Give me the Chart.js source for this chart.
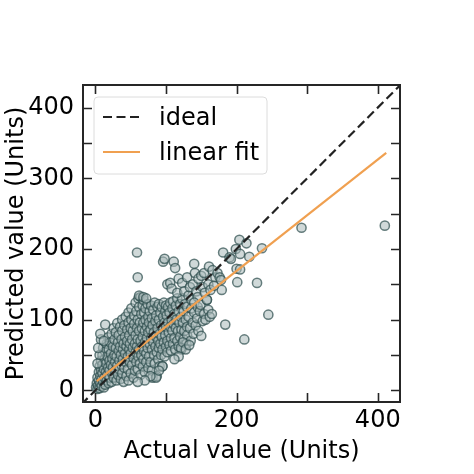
<!DOCTYPE html>
<html>
<head>
<meta charset="utf-8">
<script src="https://cdn.jsdelivr.net/npm/chart.js@4.4.1/dist/chart.umd.min.js"></script>
<style>
  html, body { margin: 0; padding: 0; background: #fff; }
  #wrap { width: 474px; height: 474px; }
</style>
</head>
<body>
<div id="wrap"><canvas id="parity-chart" width="474" height="474"></canvas></div>
<script>
// actual vs predicted, one entry per sample (same order in both arrays)
const actual = [
  1,2,3,3,4,5,5,6,6,7,7,8,8,9,9,10,10,10,11,11,12,12,13,13,14,14,14,15,15,16,16,17,17,18,18,19,19,20,20,20,21,22,22,23,23,24,24,25,25,6,4,3,8,7,12,
  26,26,27,27,28,28,29,29,30,30,31,31,32,32,33,33,34,34,35,35,36,36,37,37,38,38,38,39,39,40,40,41,41,42,42,43,43,44,44,45,45,46,46,47,47,47,48,48,49,49,50,50,50,
  51,51,52,52,53,53,54,54,55,55,56,56,57,57,57,58,58,59,59,60,60,60,61,61,62,62,62,63,63,64,64,64,65,65,66,66,67,67,67,68,68,68,69,69,70,70,70,71,71,72,72,73,73,74,74,75,75,75,
  76,76,77,77,78,78,79,79,80,80,80,81,81,82,82,83,83,84,84,85,85,86,86,87,87,88,88,89,89,90,90,90,91,91,92,92,93,93,94,94,95,95,96,96,97,97,98,98,99,99,100,100,100,
  101,102,102,103,103,104,105,105,106,106,107,107,108,109,109,110,110,111,112,112,113,114,114,115,116,116,117,118,118,119,120,120,121,122,122,123,124,125,125,126,127,128,129,130,130,130,
  59,60,62,68,72,96,98,102,106,108,111,113,116,118,123,126,130,132,134,136,138,140,141,143,145,146,150,152,154,155,158,160,161,163,166,170,173,176,178,179,181,190,192,168,
  132,134,135,136,138,139,140,140,142,144,145,146,148,149,150,152,154,156,158,160,162,165,121,124,128,133,118,112,184,
  199,204,214,205,218,236,292,410,200,205,201,229,245,211,
  86,95,78,90,70,60
];
const predicted = [
  4,10,2,18,7,14,26,3,34,20,10,42,28,6,16,50,36,24,12,60,4,30,44,18,93,8,55,26,38,66,14,48,22,32,75,10,58,42,28,18,68,52,36,12,80,24,45,62,33,50,60,38,72,80,70,
  88,18,50,72,40,28,60,82,14,48,95,35,68,22,56,78,42,30,90,62,16,50,72,36,100,84,24,58,44,66,12,92,32,76,52,104,40,20,62,86,70,48,30,110,96,14,58,78,40,66,88,24,52,
  116,100,72,36,60,84,46,18,106,94,66,28,124,78,54,40,112,88,62,100,72,30,48,130,118,84,58,38,96,132,70,22,108,50,88,62,120,76,34,128,96,44,56,110,84,68,26,116,100,52,40,90,74,122,60,104,32,82,
  96,48,112,66,40,86,120,74,58,102,28,92,18,68,114,50,82,124,38,98,62,76,106,20,54,88,118,44,70,100,60,122,80,34,110,66,50,92,118,76,34,58,104,86,68,124,48,96,112,78,62,120,90,
  106,70,54,96,118,82,64,110,124,90,74,56,100,116,84,66,126,94,108,74,58,88,120,100,70,130,84,112,62,96,76,122,104,86,58,130,96,112,72,84,122,100,66,90,118,78,
  195,160,134,132,130,182,186,150,152,144,182,173,138,158,152,140,160,134,146,128,150,179,166,140,132,158,162,146,166,138,128,150,175,142,170,160,166,160,156,142,195,188,186,148,
  104,88,70,116,96,80,110,124,92,102,118,84,112,121,77,98,108,100,128,114,104,108,60,68,58,64,48,44,93,
  200,213,208,193,189,201,230,233,172,171,153,152,107,72,
  18,34,20,28,14,12
];
// fitted line end points
const fitX = [2, 412];
const fitY = [13, 336];
// axis ticks (labelled ones are listed separately)
const xTicks = [0, 100, 200, 300, 400];
const xTickLabels = [0, 200, 400];
const yTicks = [0, 50, 100, 150, 200, 250, 300, 350, 400];
const yTickLabels = [0, 100, 200, 300, 400];
const xRange = [-17.5, 431.5];
const yRange = [-16.5, 432];

const font = { family: "DejaVu Sans", size: 24 };

const points = actual.map((v, i) => ({ x: v, y: predicted[i] }));
const idealLine = [-20, 440].map((v) => ({ x: v, y: v }));
const fitLine = fitX.map((v, i) => ({ x: v, y: fitY[i] }));

// matplotlib style: box frame + inward ticks on every side
const frameTicks = {
  id: "frameTicks",
  afterDatasetsDraw(chart) {
    const { ctx, chartArea: a, scales } = chart;
    const len = 9;
    ctx.save();
    ctx.strokeStyle = "#262626";
    ctx.lineWidth = 1.6;
    ctx.beginPath();
    scales.x.ticks.forEach((t) => {
      const px = Math.round(scales.x.getPixelForValue(t.value)) + 0.5;
      ctx.moveTo(px, a.bottom);
      ctx.lineTo(px, a.bottom - len);
      ctx.moveTo(px, a.top);
      ctx.lineTo(px, a.top + len);
    });
    scales.y.ticks.forEach((t) => {
      const py = Math.round(scales.y.getPixelForValue(t.value)) + 0.5;
      ctx.moveTo(a.left, py);
      ctx.lineTo(a.left + len, py);
      ctx.moveTo(a.right, py);
      ctx.lineTo(a.right - len, py);
    });
    ctx.stroke();
    ctx.lineWidth = 2;
    ctx.strokeRect(a.left, a.top, a.right - a.left, a.bottom - a.top);
    ctx.restore();
  },
};

// legend box in the upper-left corner of the plot
const boxLegend = {
  id: "boxLegend",
  afterDraw(chart) {
    const { ctx, chartArea: a } = chart;
    const items = chart.data.datasets.filter((d) => d.showInLegend);
    const x0 = a.left + 11, y0 = a.top + 12, w = 173, h = 77;
    ctx.save();
    ctx.beginPath();
    ctx.roundRect(x0, y0, w, h, 4);
    ctx.fillStyle = "rgba(255,255,255,0.8)";
    ctx.fill();
    ctx.strokeStyle = "#dcdcdc";
    ctx.lineWidth = 1;
    ctx.stroke();
    items.forEach((d, i) => {
      const ly = y0 + 20 + i * 35;
      ctx.beginPath();
      ctx.setLineDash(d.borderDash || []);
      ctx.strokeStyle = d.borderColor;
      ctx.lineWidth = d.borderWidth;
      ctx.moveTo(x0 + 9, ly);
      ctx.lineTo(x0 + 46, ly);
      ctx.stroke();
      ctx.setLineDash([]);
      ctx.fillStyle = "#000";
      ctx.font = `${font.size}px "${font.family}"`;
      ctx.textBaseline = "alphabetic";
      ctx.fillText(d.label, x0 + 65, ly + 8);
    });
    ctx.restore();
  },
};

new Chart(document.getElementById("parity-chart").getContext("2d"), {
  type: "scatter",
  data: {
    datasets: [
      {
        label: "ideal",
        type: "line",
        data: idealLine,
        borderColor: "#222222",
        borderWidth: 2.2,
        borderDash: [9, 4.5],
        pointRadius: 0,
        showInLegend: true,
      },
      {
        label: "linear fit",
        type: "line",
        data: fitLine,
        borderColor: "#f0a050",
        borderWidth: 2.2,
        pointRadius: 0,
        showInLegend: true,
      },
      {
        label: "samples",
        data: points,
        pointRadius: 4.6,
        pointBorderWidth: 1.5,
        backgroundColor: "rgba(170,186,186,0.55)",
        borderColor: "rgba(47,79,79,0.72)",
      },
    ],
  },
  options: {
    responsive: false,
    animation: false,
    devicePixelRatio: 1,
    layout: { padding: { top: 85, right: 74, left: 0, bottom: 0 } },
    plugins: { legend: { display: false }, tooltip: { enabled: false } },
    scales: {
      x: {
        type: "linear",
        min: xRange[0],
        max: xRange[1],
        grid: { display: false, drawTicks: false },
        border: { display: false },
        afterBuildTicks: (s) => { s.ticks = xTicks.map((v) => ({ value: v })); },
        ticks: {
          autoSkip: false,
          padding: 4,
          color: "#000",
          font: font,
          maxRotation: 0,
          callback: (v) => (xTickLabels.includes(v) ? String(v) : ""),
        },
        title: {
          display: true,
          text: "Actual value (Units)",
          color: "#000",
          font: font,
          padding: { top: 0, bottom: 8 },
        },
        afterFit: (s) => { s.height = 72; },
      },
      y: {
        type: "linear",
        min: yRange[0],
        max: yRange[1],
        grid: { display: false, drawTicks: false },
        border: { display: false },
        afterBuildTicks: (s) => { s.ticks = yTicks.map((v) => ({ value: v })); },
        ticks: {
          autoSkip: false,
          padding: 9,
          color: "#000",
          font: font,
          callback: (v) => (yTickLabels.includes(v) ? String(v) : ""),
        },
        title: {
          display: true,
          text: "Predicted value (Units)",
          color: "#000",
          font: font,
          padding: { top: 2, bottom: 0 },
        },
        afterFit: (s) => { s.width = 83; },
      },
    },
  },
  plugins: [frameTicks, boxLegend],
});
</script>
</body>
</html>
